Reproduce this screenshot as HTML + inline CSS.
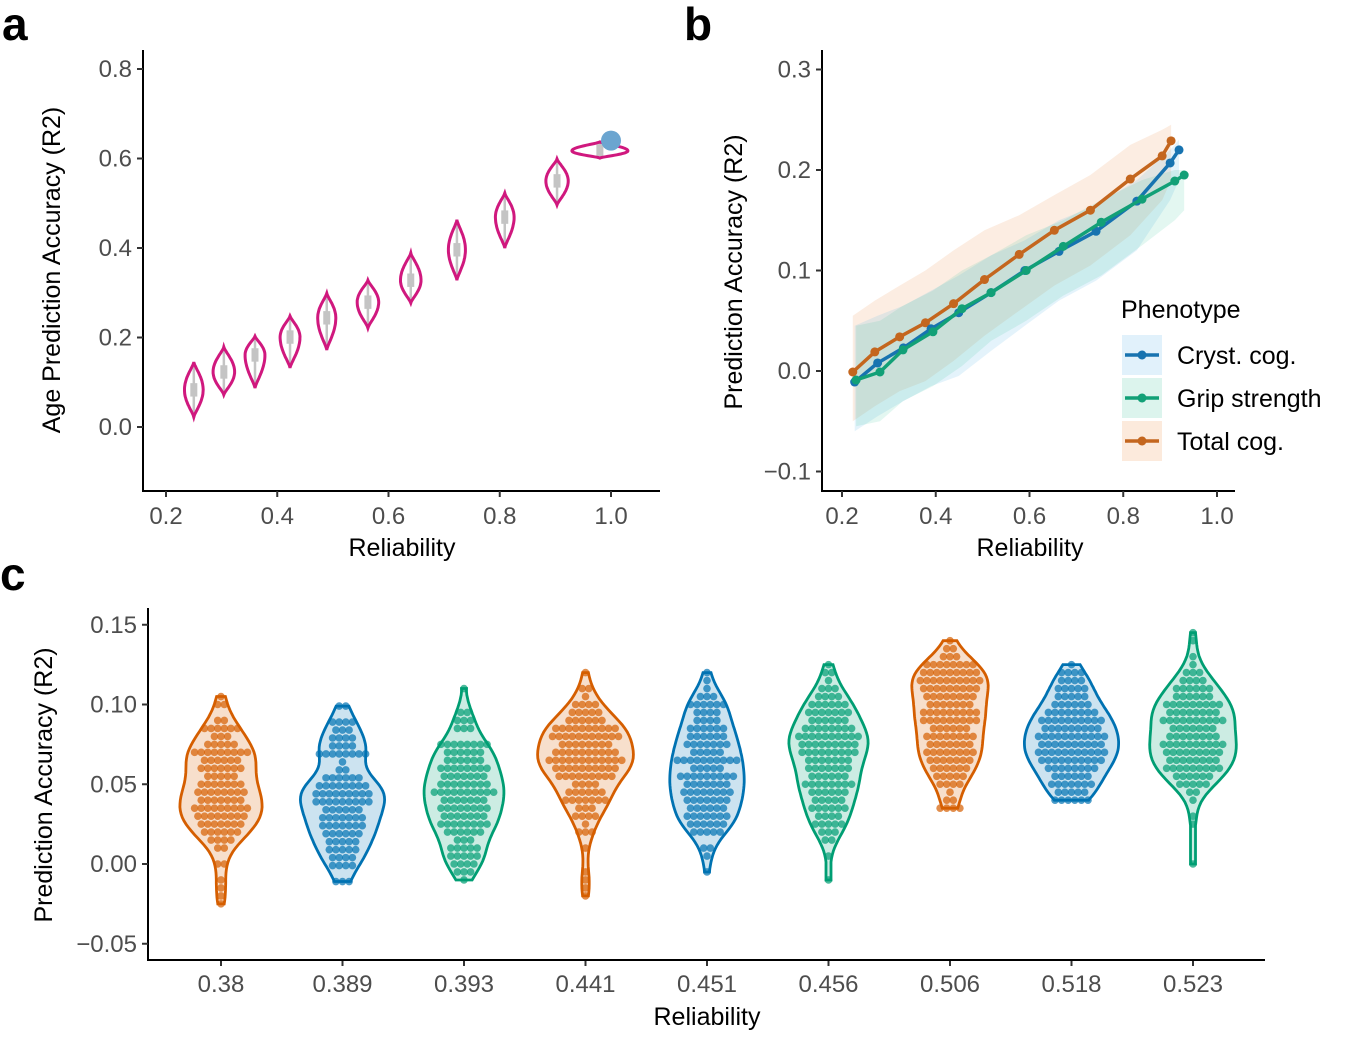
<!DOCTYPE html>
<html><head><meta charset="utf-8"><style>
html,body{margin:0;padding:0;background:#fff;}
svg{display:block;font-family:"Liberation Sans",Arial,sans-serif;}
</style></head><body>
<svg id="fig" width="1350" height="1046" viewBox="0 0 1350 1046"></svg>
<script>
// ---------- Panel a data ----------
const relA=[0.250,0.304,0.360,0.423,0.489,0.563,0.640,0.723,0.809,0.903,0.980];
const medA=[0.083,0.123,0.161,0.201,0.244,0.279,0.328,0.396,0.469,0.550,0.617];
const lowA=[0.022,0.072,0.087,0.132,0.172,0.221,0.277,0.328,0.400,0.496,0.601];
const highA=[0.145,0.179,0.203,0.248,0.299,0.328,0.389,0.463,0.523,0.599,0.637];
const refPointA=[1.0,0.640];
const xTicksA=[0.2,0.4,0.6,0.8,1.0];
const yTicksA=[0.0,0.2,0.4,0.6,0.8];
// ---------- Panel b data ----------
const seriesB=["Cryst. cog.","Grip strength","Total cog."];
const crystX=[0.227,0.276,0.331,0.390,0.449,0.518,0.590,0.663,0.742,0.829,0.900,0.919];
const crystY=[-0.011,0.008,0.023,0.042,0.058,0.078,0.100,0.119,0.139,0.169,0.207,0.220];
const crystLo=[-0.06,-0.045,-0.03,-0.015,-0.005,0.02,0.045,0.07,0.09,0.12,0.17,0.19];
const crystHi=[0.045,0.055,0.065,0.08,0.095,0.115,0.13,0.15,0.165,0.19,0.22,0.23];
const gripX=[0.230,0.281,0.330,0.394,0.456,0.518,0.593,0.672,0.753,0.840,0.910,0.930];
const gripY=[-0.009,-0.001,0.021,0.039,0.062,0.078,0.100,0.124,0.148,0.171,0.189,0.195];
const gripLo=[-0.055,-0.05,-0.03,-0.015,0.005,0.03,0.05,0.075,0.095,0.125,0.15,0.16];
const gripHi=[0.045,0.05,0.065,0.08,0.1,0.115,0.135,0.15,0.17,0.19,0.2,0.2];
const totX=[0.223,0.270,0.323,0.378,0.438,0.504,0.578,0.653,0.730,0.815,0.883,0.902];
const totY=[-0.001,0.019,0.034,0.048,0.067,0.091,0.116,0.140,0.160,0.191,0.214,0.229];
const totLo=[-0.05,-0.035,-0.02,-0.01,0.01,0.035,0.06,0.085,0.105,0.135,0.17,0.19];
const totHi=[0.055,0.07,0.085,0.1,0.12,0.14,0.155,0.175,0.195,0.225,0.24,0.245];
const xTicksB=[0.2,0.4,0.6,0.8,1.0];
const yTicksB=[-0.1,0.0,0.1,0.2,0.3];
// ---------- Panel c data ----------
const catsC=["0.38","0.389","0.393","0.441","0.451","0.456","0.506","0.518","0.523"];
const groupC=[2,0,1,2,0,1,2,0,1]; // 0 cryst,1 grip,2 total
const binStartC=[-0.025,-0.011,-0.01,-0.02,-0.005,-0.01,0.035,0.04,0.0];
const binCounts0=[1,1,1,1,0,2,0,2,4,6,7,8,9,7,8,7,5,7,6,9,5,3,6,2,0,2,1];
const binCounts1=[3,0,4,4,5,5,6,7,7,6,9,9,8,6,2,1,8,4,4,3,4,0,2];
const binCounts2=[1,3,4,5,5,3,6,8,7,8,7,10,8,7,8,6,6,8,0,3,3,2,0,0,1];
const binCounts3=[1,1,1,1,0,0,1,0,3,1,4,3,7,6,4,9,10,12,10,8,11,10,6,5,4,1,2,0,1];
const binCounts4=[1,0,1,2,0,5,6,7,6,7,8,7,9,5,10,5,7,6,6,4,4,6,3,1,1,1];
const binCounts5=[1,0,0,1,0,2,3,5,4,6,5,6,8,6,7,7,9,9,10,8,6,7,6,4,3,1,2,1];
const binCounts6=[4,2,1,4,5,6,7,8,7,8,6,9,9,7,8,9,10,9,8,3,2,1];
const binCounts7=[6,5,7,6,8,10,11,10,11,9,10,8,6,5,5,4,4,1];
const binCounts8=[1,0,0,0,0,1,1,0,1,2,5,6,9,8,9,10,8,7,10,8,9,6,6,4,3,1,1,0,1,1];
const binsC=[binCounts0,binCounts1,binCounts2,binCounts3,binCounts4,binCounts5,binCounts6,binCounts7,binCounts8];
const yTicksC=[-0.05,0.00,0.05,0.10,0.15];

const NS="http://www.w3.org/2000/svg";
const svg=document.getElementById('fig');
function mk(tag,attrs,parent){const e=document.createElementNS(NS,tag);for(const k in attrs)e.setAttribute(k,attrs[k]);(parent||svg).appendChild(e);return e;}
function txt(s,x,y,size,anchor,fill,parent,extra){const t=mk('text',Object.assign({x:x,y:y,'font-size':size,'text-anchor':anchor,fill:fill},extra||{}),parent);t.textContent=s;return t;}
const COL=["#0072B2","#009E73","#D55E00"];
const LINECOL=["#1773B0","#12A077","#C4661E"];
const GREY="#4D4D4D";

let t;
t=txt("a",2,40,46,"start","#000",svg,{'font-weight':'bold'});

t=txt("b",684,40,46,"start","#000",svg,{'font-weight':'bold'});

t=txt("c",0,590,46,"start","#000",svg,{'font-weight':'bold'});


// ================= Panel A =================
const xA=v=>166+(v-0.2)*556.25, yA=v=>427-v*447.5;
const gA=mk('g',{});
for(let i=0;i<relA.length;i++){
  const cx=xA(relA[i]),lo=lowA[i],hi=highA[i],md=medA[i];
  const W=Math.min(1.15/(hi-lo),28);
  const pts=[],N=40;
  for(let k=0;k<=N;k++){const v=lo+(hi-lo)*k/N;const tt=v<md?(v-md)/(md-lo):(v-md)/(hi-md);const w=W*Math.pow(Math.max(0,1-tt*tt),1.4);pts.push([v,w]);}
  let d="M"+pts.map(p=>(cx+p[1]).toFixed(1)+","+yA(p[0]).toFixed(1)).join(" L");
  d+=" L"+pts.slice().reverse().map(p=>(cx-p[1]).toFixed(1)+","+yA(p[0]).toFixed(1)).join(" L")+"Z";
  const ln=mk('line',{x1:cx,x2:cx,y1:yA(lo),y2:yA(hi),stroke:"#C4C4C4",'stroke-width':2.5},gA);
  
  const bx=mk('rect',{x:cx-3.5,y:yA(md+0.015),width:7,height:yA(md-0.015)-yA(md+0.015),fill:"#C4C4C4"},gA);
  
  const p=mk('path',{d:d,fill:"none",stroke:"#D0187E",'stroke-width':3},gA);
  
}
const dotA=mk('circle',{cx:xA(refPointA[0]),cy:yA(refPointA[1]),r:10,fill:"#6BA5D0"},gA);

function axes(g,x0,x1,y0,y1){
  const a=mk('path',{d:`M${x0},${y1} L${x0},${y0} L${x1},${y0}`,fill:'none',stroke:'#000','stroke-width':2},g);
  
}
axes(gA,143,660,491,50);
xTicksA.forEach(v=>{const x=xA(v);const l=mk('line',{x1:x,x2:x,y1:491,y2:497,stroke:'#333','stroke-width':2},gA);
 const tt=txt(v.toFixed(1),x,524,24,'middle',GREY,gA);});
yTicksA.forEach(v=>{const y=yA(v);const l=mk('line',{x1:137,x2:143,y1:y,y2:y,stroke:'#333','stroke-width':2},gA);
 const tt=txt(v.toFixed(1),132,y+8,24,'end',GREY,gA);});
t=txt("Reliability",402,556,25,'middle','#000',gA);
t=txt("Age Prediction Accuracy (R2)",0,0,25,'middle','#000',gA,{transform:'translate(60,270) rotate(-90)'});

// ================= Panel B =================
const xB=v=>842+(v-0.2)*468.75, yB=v=>371-v*1005;
const gB=mk('g',{});
const SX=[crystX,gripX,totX],SY=[crystY,gripY,totY],SL=[crystLo,gripLo,totLo],SH=[crystHi,gripHi,totHi];
const RIB=[["#56B4E9",0.16],["#3CC49A",0.14],["#F5B98A",0.25]];
[2,0,1].forEach(s=>{
  const xs=SX[s];let d="M"+xs.map((x,i)=>xB(x).toFixed(1)+","+yB(SH[s][i]).toFixed(1)).join(" L");
  d+=" L"+xs.map((x,i)=>[x,i]).reverse().map(([x,i])=>xB(x).toFixed(1)+","+yB(SL[s][i]).toFixed(1)).join(" L")+"Z";
  const r=mk('path',{d:d,fill:RIB[s][0],'fill-opacity':RIB[s][1],stroke:'none'},gB);
  
});
[2,0,1].forEach(s=>{
  const pts=SX[s].map((x,i)=>xB(x).toFixed(1)+","+yB(SY[s][i]).toFixed(1)).join(" ");
  const pl=mk('polyline',{points:pts,fill:'none',stroke:LINECOL[s],'stroke-width':3.5,'stroke-linejoin':'round'},gB);
  
  SX[s].forEach((x,i)=>{const c=mk('circle',{cx:xB(x),cy:yB(SY[s][i]),r:4.5,fill:LINECOL[s]},gB);});
});
axes(gB,822,1235,491,50);
xTicksB.forEach(v=>{const x=xB(v);const l=mk('line',{x1:x,x2:x,y1:491,y2:497,stroke:'#333','stroke-width':2},gB);
 const tt=txt(v.toFixed(1),x,524,24,'middle',GREY,gB);});
yTicksB.forEach(v=>{const y=yB(v);const l=mk('line',{x1:816,x2:822,y1:y,y2:y,stroke:'#333','stroke-width':2},gB);
 const tt=txt(v<0?"\u2212"+Math.abs(v).toFixed(1):v.toFixed(1),811,y+8,24,'end',GREY,gB);});
t=txt("Reliability",1030,556,25,'middle','#000',gB);
t=txt("Prediction Accuracy (R2)",0,0,25,'middle','#000',gB,{transform:'translate(742,272) rotate(-90)'});
const gL=mk('g',{},gB);
t=txt("Phenotype",1121,318,25,'start','#000',gL);
seriesB.forEach((nm,s)=>{const y0=335+s*43;
  const k=mk('rect',{x:1122,y:y0,width:40,height:40,fill:RIB[s][0],'fill-opacity':s==2?0.3:0.18},gL);
  const l=mk('line',{x1:1125,x2:1159,y1:y0+20,y2:y0+20,stroke:LINECOL[s],'stroke-width':3.5},gL);
  const c=mk('circle',{cx:1142,cy:y0+20,r:4.5,fill:LINECOL[s]},gL);
  const tt=txt(nm,1177,y0+29,25,'start','#000',gL);
});

// ================= Panel C =================
const xC=i=>221+i*121.5, yC=v=>864-v*1595;
const gC=mk('g',{});
const STEP=0.005,BW=0.0085,SCALE=2.95;
binsC.forEach((counts,i)=>{
  const vals=[];counts.forEach((n,b)=>{for(let j=0;j<n;j++)vals.push(binStartC[i]+b*STEP);});
  let first=counts.findIndex(n=>n>0),last=counts.length-1;while(counts[last]==0)last--;
  const lo=binStartC[i]+first*STEP,hi=binStartC[i]+last*STEP;
  const dens=v=>{let s=0;vals.forEach(u=>{const z=(v-u)/BW;s+=Math.exp(-0.5*z*z);});return s/(vals.length*BW*Math.sqrt(2*Math.PI));};
  const pts=[],N=60;for(let k=0;k<=N;k++){const v=lo+(hi-lo)*k/N;pts.push([v,Math.max(2.5,dens(v)*SCALE)]);}
  const cx=xC(i);
  let d="M"+pts.map(p=>(cx+p[1]).toFixed(1)+","+yC(p[0]).toFixed(1)).join(" L");
  d+=" L"+pts.slice().reverse().map(p=>(cx-p[1]).toFixed(1)+","+yC(p[0]).toFixed(1)).join(" L")+"Z";
  const col=COL[groupC[i]];
  const vf=mk('path',{d:d,fill:col,'fill-opacity':0.2,stroke:'none'},gC);
  counts.forEach((n,b)=>{const y=yC(binStartC[i]+b*STEP);for(let j=0;j<n;j++){
    const c=mk('circle',{cx:cx+(j-(n-1)/2)*6.6,cy:y,r:3.8,fill:col,'fill-opacity':0.7},gC);
    }});
  const vo=mk('path',{d:d,fill:'none',stroke:col,'stroke-width':2.8},gC);
  const l=mk('line',{x1:cx,x2:cx,y1:960,y2:966,stroke:'#333','stroke-width':2},gC);
  const tt=txt(catsC[i],cx,992,24,'middle',GREY,gC);
});
axes(gC,148,1265,960,608);
yTicksC.forEach(v=>{const y=yC(v);const l=mk('line',{x1:142,x2:148,y1:y,y2:y,stroke:'#333','stroke-width':2},gC);
 const tt=txt(v<0?"\u2212"+Math.abs(v).toFixed(2):v.toFixed(2),137,y+8,24,'end',GREY,gC);});
t=txt("Reliability",707,1025,25,'middle','#000',gC);
t=txt("Prediction Accuracy (R2)",0,0,25,'middle','#000',gC,{transform:'translate(52,785) rotate(-90)'});
</script>
</body></html>
